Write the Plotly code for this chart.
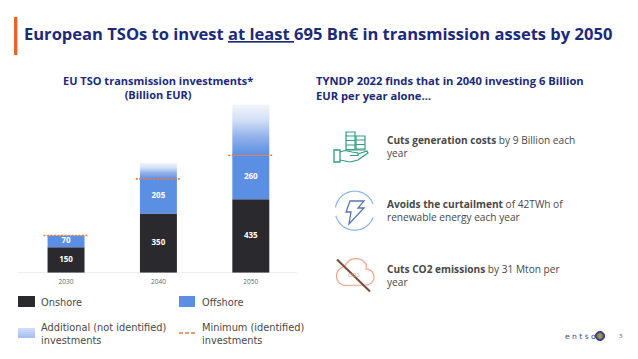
import math
import plotly.graph_objects as go

W, H = 638, 359
years = ["2030", "2040", "2050"]
onshore = [150, 350, 435]
offshore = [70, 205, 260]
additional = [0, 95, 300]

NAVY = "#1b2a7b"
ORANGE = "#e8642c"
BLUE = "#5b8fe3"
DARK = "#2a2a2e"
TEXT = "#484848"
FONT = "Open Sans"
BAR_W = 0.4
x_idx = list(range(len(years)))
minimum = [a + b for a, b in zip(onshore, offshore)]

def X(v): return v / W
def Y(v): return 1 - v / H

fig = go.Figure()
fig.add_bar(x=x_idx, y=onshore, width=BAR_W, marker=dict(color=DARK, line_width=0), showlegend=False)
fig.add_bar(x=x_idx, y=offshore, base=onshore, width=BAR_W, marker=dict(color=BLUE, line_width=0), showlegend=False)
for i, extra in enumerate(additional):
    if extra <= 0:
        continue
    lo, hi = minimum[i], minimum[i] + extra
    fig.add_scatter(
        x=[i - BAR_W / 2, i + BAR_W / 2, i + BAR_W / 2, i - BAR_W / 2, i - BAR_W / 2],
        y=[lo, lo, hi, hi, lo], mode="lines", line=dict(width=0), fill="toself",
        fillgradient=dict(type="vertical", start=lo, stop=hi,
                          colorscale=[[0, BLUE], [0.35, "#8fb0ea"], [0.7, "#d3e0f6"], [1, "#f3f6fc"]]),
        showlegend=False, hoverinfo="skip")
for i, m in enumerate(minimum):
    fig.add_scatter(x=[i - 0.245, i + 0.245], y=[m, m], mode="lines", showlegend=False,
                    line=dict(color="#ea7a3c", width=1.6, dash="2px,1.5px"), hoverinfo="skip")
fig.add_scatter(x=x_idx, y=[v / 2 for v in onshore], mode="text", text=[f"<b>{v}</b>" for v in onshore],
                textposition="middle center", textfont=dict(color="white", size=8, family=FONT),
                showlegend=False, hoverinfo="skip")
fig.add_scatter(x=x_idx, y=[a + b / 2 for a, b in zip(onshore, offshore)], mode="text",
                text=[f"<b>{v}</b>" for v in offshore], textposition="middle center",
                textfont=dict(color="white", size=8, family=FONT), showlegend=False, hoverinfo="skip")

ann = []
def T(x, y, s, size, color=TEXT, anchor="left", font=FONT, v="middle"):
    ann.append(dict(x=X(x), y=Y(y), xref="paper", yref="paper", text=s, showarrow=False,
                    xanchor=anchor, yanchor=v, align=anchor,
                    font=dict(size=size, color=color, family=font)))

shapes = []
def R(x0, y0, x1, y1, color):
    shapes.append(dict(type="rect", xref="paper", yref="paper", x0=X(x0), x1=X(x1), y0=Y(y0), y1=Y(y1),
                       fillcolor=color, line_width=0, layer="above"))
def P(points, color, width=1.2, close=False, fill=None, dash=None):
    d = "M" + " L".join(f"{X(a):.5f},{Y(b):.5f}" for a, b in points) + (" Z" if close else "")
    line = dict(color=color, width=width)
    if dash:
        line["dash"] = dash
    shapes.append(dict(type="path", xref="paper", yref="paper", path=d, line=line,
                       fillcolor=fill or "rgba(0,0,0,0)", layer="above"))
def C(cx, cy, rx, ry, color, width=1.2, fill=None):
    shapes.append(dict(type="circle", xref="paper", yref="paper", x0=X(cx - rx), x1=X(cx + rx),
                       y0=Y(cy - ry), y1=Y(cy + ry), line=dict(color=color, width=width),
                       fillcolor=fill or "rgba(0,0,0,0)", layer="above"))

# title
R(14, 17, 17.4, 55, ORANGE)
T(22, 33.5, "<b>European TSOs to invest <u>at least </u>695 Bn€ in transmission assets by 2050</b>", 16.55, NAVY)
# chart heading
T(158, 88, "<b>EU TSO transmission investments*<br>(Billion EUR)</b>", 11, NAVY, "center")
# right heading
T(314, 88, "<b>TYNDP 2022 finds that in 2040 investing 6 Billion<br>EUR per year alone…</b>", 11.2, NAVY)
# bullets
T(385, 146.5, "<b>Cuts generation costs</b> by 9 Billion each<br>year", 10.15)
T(385, 210.7, "<b>Avoids the curtailment</b> of 42TWh of<br>renewable energy each year", 10.15)
T(385, 275, "<b>Cuts CO2 emissions</b> by 31 Mton per<br>year", 10.15)

# legend
LF = "DejaVu Sans"
R(18, 296, 35, 307, DARK)
T(39, 302, "Onshore", 9.8, TEXT, font=LF)
R(179, 296, 195, 307, BLUE)
T(200, 302, "Offshore", 9.8, TEXT, font=LF)
for k, col in enumerate(["#cfdcf8", "#c4d5f7", "#b9cdf5", "#afc6f3", "#a9c1f2"]):
    R(18, 328 + 2 * k, 35, 330 + 2 * k, col)
T(39, 333.5, "Additional (not identified)<br>investments", 9.8, TEXT, font=LF)
P([(179, 333), (195, 333)], "#ea7a3c", 1.5, dash="4px,2px")
T(200, 333.5, "Minimum (identified)<br>investments", 9.8, TEXT, font=LF)

# coin-hand icon
G = "#2f9e80"
for cx, top, bottom in [(350.5, 132, 150), (360.5, 136, 150)]:
    P([(cx - 4.5, top), (cx + 4.5, top), (cx + 4.5, bottom), (cx - 4.5, bottom)], G, 1.2, close=True)
    y = top + 4
    while y < bottom:
        P([(cx - 4.5, y), (cx + 4.5, y)], G, 1)
        y += 4.5
P([(334, 150), (340, 150), (340, 162), (334, 162)], G, 1.3, close=True)
P([(340, 152), (345, 150.5), (352, 152), (358, 153), (358, 155.5), (350, 155.5)], G, 1.2)
P([(358, 154), (367, 151), (368, 153), (358, 160), (350, 162), (340, 160)], G, 1.2)

# lightning icon
LB = "#86b4ea"
def arc(cx, cy, r, a0, a1, n=30):
    return [(cx + r * math.cos(math.radians(a0 + (a1 - a0) * j / n)),
             cy + r * math.sin(math.radians(a0 + (a1 - a0) * j / n))) for j in range(n + 1)]
P(arc(354.7, 210.7, 19.5, 20, 165), LB, 1.2)
P(arc(354.7, 210.7, 19.5, 190, 340), LB, 1.2)
P([(350, 201), (364, 201), (358, 208), (364, 208), (349, 224), (351, 212), (346, 212)], "#5577aa", 1.3, close=True)

# cloud icon
O = "#f0a388"
P(arc(346, 276, 9.5, 90, 250) + arc(356, 270, 11.5, 205, 335) + arc(366, 277, 8, 270, 450) + [(346, 285.5)], O, 1.2, close=True)
T(354, 275, "CO2", 6, O, "center")
P([(337, 259.5), (370, 291.5)], "#77503f", 2.2)

# logo and page number
T(563, 336, "e n t s o", 7.6, "#33507f", font="DejaVu Sans")
C(600, 336, 4.6, 4.6, "#34478f", 1, "#34478f")
C(600, 336, 2.4, 2.4, "#a98f45", 1, "#a98f45")
T(621, 336, "3", 6, "#555", "center")

fig.update_layout(
    width=W, height=H, margin=dict(l=0, r=0, t=0, b=0), barmode="overlay",
    paper_bgcolor="white", plot_bgcolor="white", showlegend=False, font=dict(family=FONT),
    xaxis=dict(domain=[X(18), X(297)], range=[-0.52, 2.5], tickmode="array", tickvals=x_idx, ticktext=years,
               showgrid=False, zeroline=False, showline=False, ticks="", ticklabelstandoff=4,
               tickfont=dict(size=6.5, color="#666", family=FONT)),
    yaxis=dict(domain=[Y(272.7), Y(100)], range=[0, 1022], visible=False),
    shapes=shapes + [dict(type="line", xref="x domain", yref="y", x0=0, x1=1, y0=0, y1=0,
                          line=dict(color="#e6e6e6", width=1), layer="below")],
    annotations=ann)
fig.write_html("out.html", config={"displayModeBar": False},
               post_script="document.body.style.margin='0';document.body.style.overflow='hidden';")
